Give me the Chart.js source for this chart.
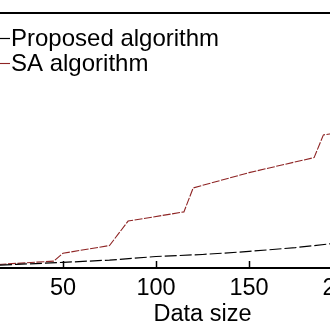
<!DOCTYPE html>
<html>
<head>
<meta charset="utf-8">
<script src="https://cdn.jsdelivr.net/npm/chart.js@4.4.1/dist/chart.umd.min.js"></script>
<style>
  html, body { margin: 0; padding: 0; background: #fff; overflow: hidden; width: 330px; height: 330px; }
  #wrap { position: absolute; left: -100px; top: 0; width: 600px; height: 330px; }
</style>
</head>
<body>
<div id="wrap"><canvas id="chart" width="600" height="330"></canvas></div>
<script>
// Data (y in arbitrary units, axis hidden)
const seriesNames = ['Proposed algorithm', 'SA algorithm'];
const propX = [0, 25, 50, 75, 100, 125, 150, 175, 200];
const propY = [0.6, 1.4, 2.2, 3.1, 4.5, 5.3, 6.5, 8.0, 10.0];
const saX = [0, 45, 50, 75, 85, 115, 120, 150, 185, 190, 200];
const saY = [0.7, 2.7, 5.8, 8.8, 18.4, 22.0, 31.4, 37.4, 43.3, 52.2, 53.3];
const xTicks = [0, 50, 100, 150, 200, 250];

const FONT = 'Arial, "Liberation Sans", sans-serif';

const toPoints = (xs, ys) => xs.map((x, i) => ({ x, y: ys[i] }));

// inward tick marks on the bottom axis
const innerTicks = {
  id: 'innerTicks',
  afterDraw(chart) {
    const { ctx, chartArea, scales } = chart;
    ctx.save();
    ctx.strokeStyle = '#000';
    ctx.lineWidth = 1.5;
    xTicks.forEach(v => {
      const px = Math.round(scales.x.getPixelForValue(v)) + 0.5;
      ctx.beginPath();
      ctx.moveTo(px, chartArea.bottom);
      ctx.lineTo(px, chartArea.bottom - 7);
      ctx.stroke();
    });
    ctx.restore();
  }
};

// legend drawn inside the plot, top-left
const insideLegend = {
  id: 'insideLegend',
  afterDraw(chart) {
    const { ctx } = chart;
    ctx.save();
    ctx.font = '24px ' + FONT;
    ctx.textBaseline = 'alphabetic';
    chart.data.datasets.forEach((ds, i) => {
      const ly = 38 + i * 25;
      ctx.strokeStyle = ds.borderColor;
      ctx.lineWidth = ds.borderWidth;
      ctx.setLineDash([]);
      ctx.beginPath();
      ctx.moveTo(80, ly + 0.5);
      ctx.lineTo(110, ly + 0.5);
      ctx.stroke();
      ctx.fillStyle = '#000';
      ctx.fillText(ds.label, 111, ly + 8);
    });
    ctx.restore();
  }
};

new Chart(document.getElementById('chart'), {
  type: 'line',
  data: {
    datasets: [
      { label: seriesNames[0], data: toPoints(propX, propY), borderColor: '#000', borderWidth: 1.2, borderDash: [12, 3], pointRadius: 0, tension: 0, fill: false },
      { label: seriesNames[1], data: toPoints(saX, saY), borderColor: '#8e2424', borderWidth: 1.1, borderDash: [8, 1.5], pointRadius: 0, tension: 0, fill: false }
    ]
  },
  options: {
    responsive: false,
    animation: false,
    events: [],
    layout: { padding: { left: 70, right: 65, top: 13, bottom: 0 } },
    plugins: { legend: { display: false }, tooltip: { enabled: false } },
    scales: {
      x: {
        type: 'linear', position: 'bottom', min: 0, max: 250,
        afterBuildTicks: s => { s.ticks = xTicks.map(v => ({ value: v })); },
        afterFit: s => { s.height = 62; },
        grid: { display: false, drawTicks: false },
        border: { display: true, color: '#000', width: 2 },
        ticks: { color: '#000', font: { family: FONT, size: 23.5 }, padding: 6, maxRotation: 0, autoSkip: false },
        title: { display: true, text: 'Data size', color: '#000', font: { family: FONT, size: 23.5 }, padding: { top: 0, bottom: 1 } }
      },
      x2: {
        type: 'linear', axis: 'x', position: 'top', min: 0, max: 250,
        afterFit: s => { s.height = 0; },
        grid: { display: false, drawTicks: false },
        border: { display: true, color: '#000', width: 2 },
        ticks: { display: false }
      },
      y: { display: false, min: 0, max: 100 }
    }
  },
  plugins: [innerTicks, insideLegend]
});
</script>
</body>
</html>
